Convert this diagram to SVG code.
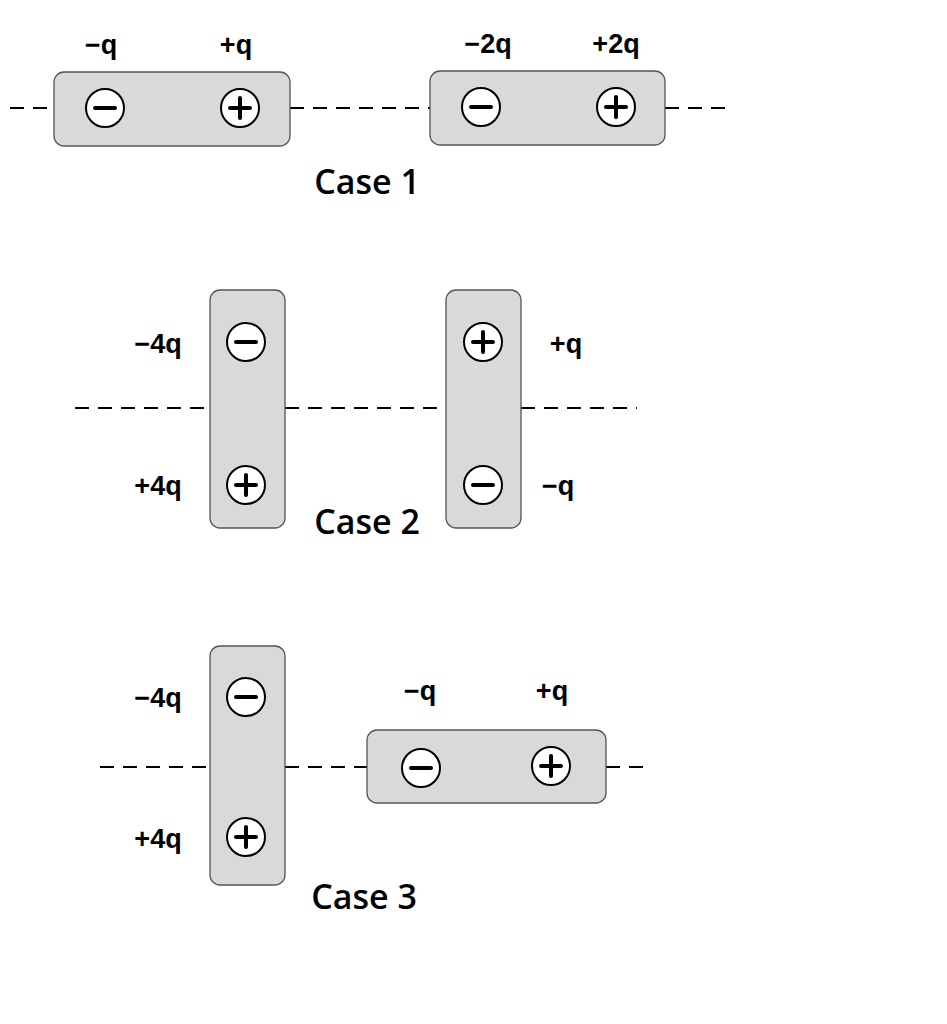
<svg xmlns="http://www.w3.org/2000/svg" width="947" height="1024" viewBox="0 0 947 1024">
<style>
.box{fill:#d9d9d9;stroke:#555;stroke-width:1.3}
.dash{stroke:#000;stroke-width:2;stroke-dasharray:14 9;fill:none}
.c{fill:#fff;stroke:#000;stroke-width:2}
.s{stroke:#000;stroke-width:4;stroke-linecap:round}
.lbl{font-family:"Liberation Sans",Arial,sans-serif;font-size:27px;font-weight:bold;text-anchor:middle}
.case{font-family:"Open Sans","Liberation Sans",sans-serif;font-size:34px;font-weight:600;text-anchor:middle}
</style>
<defs>
<g id="neg"><circle class="c" r="19"/><line class="s" x1="-10" y1="0" x2="10" y2="0"/></g>
<g id="pos"><circle class="c" r="19"/><line class="s" x1="-10" y1="0" x2="10" y2="0"/><line class="s" x1="0" y1="-10" x2="0" y2="10"/></g>
</defs>
<rect width="947" height="1024" fill="#fff"/>
<g id="connectors">
<path class="dash" d="M10 108H54M290 108H430M665 108H730"/>
<path class="dash" d="M75 408H210M285 408H446M521 408H637"/>
<path class="dash" d="M100 767H210M285 767H367M606 767H652"/>
</g>
<g id="case1-left"><rect class="box" x="54" y="72" width="236" height="74" rx="10"/><use href="#neg" x="105" y="108"/><use href="#pos" x="240" y="108"/></g>
<g id="case1-right"><rect class="box" x="430" y="71" width="235" height="74" rx="10"/><use href="#neg" x="481" y="107"/><use href="#pos" x="616" y="107"/></g>
<g id="case2-left"><rect class="box" x="210" y="290" width="75" height="238" rx="10"/><use href="#neg" x="246" y="342"/><use href="#pos" x="246" y="485"/></g>
<g id="case2-right"><rect class="box" x="446" y="290" width="75" height="238" rx="10"/><use href="#pos" x="483" y="342"/><use href="#neg" x="483" y="485"/></g>
<g id="case3-left"><rect class="box" x="210" y="646" width="75" height="239" rx="10"/><use href="#neg" x="246" y="697"/><use href="#pos" x="246" y="837"/></g>
<g id="case3-right"><rect class="box" x="367" y="730" width="239" height="73" rx="10"/><use href="#neg" x="421" y="768"/><use href="#pos" x="551" y="766"/></g>
<g id="labels">
<text class="lbl" x="101" y="54">−q</text><text class="lbl" x="236" y="54">+q</text>
<text class="lbl" x="488" y="53">−2q</text><text class="lbl" x="616" y="53">+2q</text>
<text class="lbl" x="158" y="353">−4q</text><text class="lbl" x="158" y="495">+4q</text>
<text class="lbl" x="566" y="353">+q</text><text class="lbl" x="558" y="495">−q</text>
<text class="lbl" x="158" y="707">−4q</text><text class="lbl" x="158" y="848">+4q</text>
<text class="lbl" x="420" y="700">−q</text><text class="lbl" x="552" y="700">+q</text>
<text class="case" x="367" y="194">Case 1</text>
<text class="case" x="367" y="534">Case 2</text>
<text class="case" x="364" y="909">Case 3</text>
</g>
</svg>
